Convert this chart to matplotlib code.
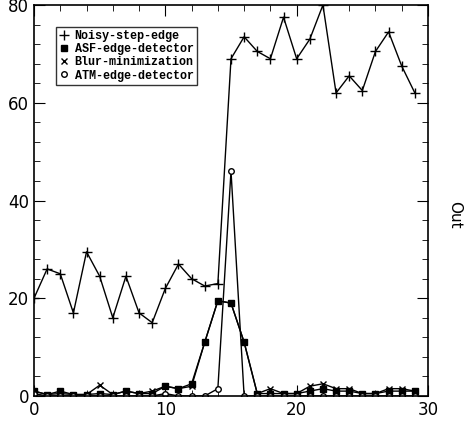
import matplotlib
matplotlib.use("Agg")
import matplotlib.pyplot as plt
import numpy as np

x = np.arange(30)
noisy = [20, 26, 25, 17, 29.5, 24.5, 16, 24.5, 17, 15, 22, 27, 24, 22.5, 23,
         69, 73.5, 70.5, 69, 77.5, 69, 73, 80, 62, 65.5, 62.5, 70.5, 74.5, 67.5, 62]
asf = [1, 0.3, 1, 0.3, 0.3, 0.5, 0.3, 1, 0.5, 0.5, 2, 1.5, 2.5, 11, 19.5,
       19, 11, 0.5, 0.5, 0.5, 0.5, 1, 1.5, 1, 1, 0.5, 0.5, 1, 1, 1]
blur = [1, 0.3, 0.5, 0.3, 0.3, 2.2, 0.3, 1, 0.5, 1, 2, 1.5, 2, 11, 19.5,
        19, 11, 0.5, 1.5, 0.5, 0.5, 2, 2.5, 1.5, 1.5, 0.5, 0.5, 1.5, 1.5, 1]
atm = [0.5, 0, 0, 0, 0, 0, 0, 0, 0, 0, 0.5, 0, 0, 0, 1.5,
       46, 0, 0, 0, 0, 0, 0, 0, 0, 0, 0, 0, 0, 0, 0]

fig = plt.figure(figsize=(4.74, 4.29), dpi=100)
ax = fig.add_axes([34 / 474, 33 / 429, 394 / 474, 391 / 429])

ax.plot(x, noisy, "k-", marker="+", ms=7, lw=1, label="Noisy-step-edge")
ax.plot(x, asf, "k-", marker="s", ms=4, lw=1, label="ASF-edge-detector")
ax.plot(x, blur, "k-", marker="x", ms=5, lw=1, label="Blur-minimization")
ax.plot(x, atm, "k-", marker="o", ms=4, mfc="white", lw=1, label="ATM-edge-detector")

ax.set_xlim(0, 30)
ax.set_ylim(0, 80)
ax.set_xticks([0, 10, 20, 30])
ax.set_yticks([0, 20, 40, 60, 80])
ax.set_xticks(np.arange(0, 31, 2), minor=True)
ax.set_yticks(np.arange(0, 81, 4), minor=True)
ax.tick_params(which="both", direction="in", top=True, right=True, labelsize=12)
ax.tick_params(which="major", length=8)
ax.tick_params(which="minor", length=4)
for s in ax.spines.values():
    s.set_linewidth(1.2)

fig.text(455 / 474, 1 - 215 / 429, "Out", rotation=270, ha="center", va="center", fontsize=11)

leg = ax.legend(loc="upper left", bbox_to_anchor=(0.04, 0.96), frameon=True, fancybox=False,
                edgecolor="black", handlelength=0.8, handletextpad=0.5, borderpad=0.3,
                labelspacing=0.1, prop={"family": "Liberation Mono", "weight": "bold", "size": 8.5})
for h in leg.legend_handles:
    h.set_linestyle("none")

fig.savefig("out.png", dpi=100)
